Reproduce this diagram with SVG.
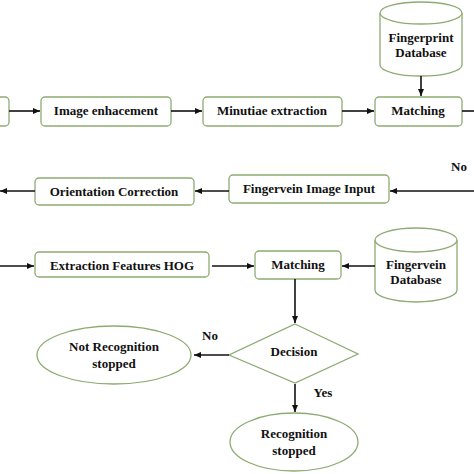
<svg xmlns="http://www.w3.org/2000/svg" width="474" height="474" viewBox="0 0 474 474">
<defs>
<style>
.n{fill:#fff;stroke:#8dab72;stroke-width:1.3}
.t{font-family:"Liberation Serif","Times New Roman",serif;font-weight:bold;font-size:13px;fill:#111;text-anchor:middle}
.c{stroke:#111;stroke-width:1.6;fill:none}
</style>
<marker id="a" markerWidth="8" markerHeight="8" refX="7" refY="4" orient="auto" markerUnits="userSpaceOnUse">
<path d="M0,1 L7,4 L0,7 Z" fill="#111"/>
</marker>
</defs>
<rect width="474" height="474" fill="#fff"/>
<g id="nodes">
<g id="partial1"><rect class="n" x="-20" y="97" width="29" height="29" rx="4"/></g>
<g id="imgenh"><rect class="n" x="41" y="97" width="130" height="29" rx="4"/><text class="t" x="106" y="115">Image enhacement</text></g>
<g id="minutiae"><rect class="n" x="203" y="97" width="139" height="29" rx="4"/><text class="t" x="272" y="115">Minutiae extraction</text></g>
<g id="match1"><rect class="n" x="375" y="97" width="87" height="29" rx="4"/><text class="t" x="418" y="115">Matching</text></g>
<g id="fpdb"><path class="n" d="M380,13 L380,65 A41,11 0 0 0 462,65 L462,13 A41,11 0 0 0 380,13 Z"/><path class="n" fill="none" d="M380,13 A41,11 0 0 0 462,13"/><text class="t" x="421" y="42">Fingerprint</text><text class="t" x="421" y="57">Database</text></g>
<g id="fvinput"><rect class="n" x="229" y="175" width="160" height="28" rx="4"/><text class="t" x="309" y="193">Fingervein Image Input</text></g>
<g id="orient"><rect class="n" x="35" y="178" width="159" height="27" rx="4"/><text class="t" x="114" y="196">Orientation Correction</text></g>
<g id="hog"><rect class="n" x="35" y="252" width="174" height="25" rx="4"/><text class="t" x="122" y="270">Extraction Features HOG</text></g>
<g id="match2"><rect class="n" x="255" y="251" width="86" height="28" rx="4"/><text class="t" x="298" y="269">Matching</text></g>
<g id="fvdb"><path class="n" d="M375,240 L375,290 A41,12 0 0 0 457,290 L457,240 A41,12 0 0 0 375,240 Z"/><path class="n" fill="none" d="M375,240 A41,12 0 0 0 457,240"/><text class="t" x="416" y="269">Fingervein</text><text class="t" x="416" y="284">Database</text></g>
<g id="decision"><polygon class="n" points="295,324 358,354 295,383 229,355"/><text class="t" x="294" y="356">Decision</text></g>
<g id="notrec"><ellipse class="n" cx="114" cy="355" rx="77" ry="29"/><text class="t" x="114" y="351">Not Recognition</text><text class="t" x="114" y="368">stopped</text></g>
<g id="rec"><ellipse class="n" cx="294" cy="442" rx="64" ry="29"/><text class="t" x="294" y="438">Recognition</text><text class="t" x="294" y="455">stopped</text></g>
</g>
<g id="connectors">
<line class="c" x1="9" y1="111" x2="40" y2="111" marker-end="url(#a)"/>
<line class="c" x1="171" y1="111" x2="202" y2="111" marker-end="url(#a)"/>
<line class="c" x1="342" y1="111" x2="374" y2="111" marker-end="url(#a)"/>
<line class="c" x1="462" y1="111" x2="474" y2="111"/>
<line class="c" x1="421" y1="76" x2="421" y2="96" marker-end="url(#a)"/>
<line class="c" x1="474" y1="191" x2="390" y2="191" marker-end="url(#a)"/>
<line class="c" x1="229" y1="191" x2="195" y2="191" marker-end="url(#a)"/>
<line class="c" x1="35" y1="191" x2="0" y2="191" marker-end="url(#a)"/>
<line class="c" x1="0" y1="266" x2="34" y2="266" marker-end="url(#a)"/>
<line class="c" x1="212" y1="266" x2="254" y2="266" marker-end="url(#a)"/>
<line class="c" x1="375" y1="266" x2="342" y2="266" marker-end="url(#a)"/>
<line class="c" x1="295" y1="279" x2="295" y2="323" marker-end="url(#a)"/>
<line class="c" x1="229" y1="355" x2="194" y2="355" marker-end="url(#a)"/>
<line class="c" x1="295" y1="384" x2="295" y2="412" marker-end="url(#a)"/>
</g>
<g id="labels">
<text class="t" x="459" y="171">No</text>
<text class="t" x="210" y="340">No</text>
<text class="t" x="323" y="397">Yes</text>
</g>
</svg>
